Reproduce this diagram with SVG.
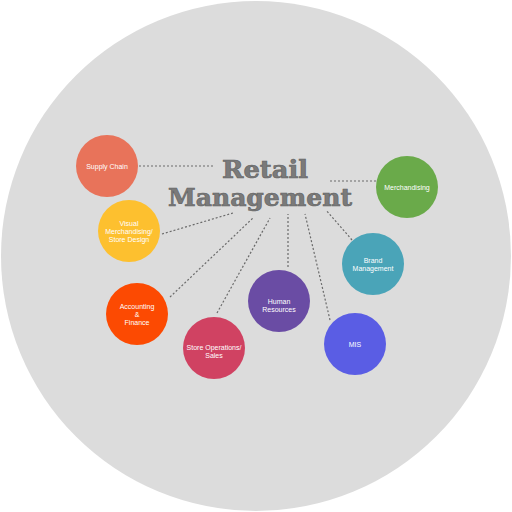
<svg xmlns="http://www.w3.org/2000/svg" width="512" height="512" viewBox="0 0 512 512">
<style>
.node circle{stroke:none}
.lbl{font-family:"Liberation Sans",Arial,sans-serif;font-size:7px;fill:#ffffff;text-anchor:middle}
.title{font-family:"DejaVu Serif","Liberation Serif",serif;font-weight:bold;font-size:25px;fill:#7a7a7a;stroke:#5e5e5e;stroke-width:0.6}
.conn line{stroke:#6a6a6a;stroke-width:1.2;stroke-dasharray:2 2}
</style>
<rect width="512" height="512" fill="#ffffff"/>
<circle cx="256" cy="256" r="255" fill="#dcdcdc"/>
<g id="title">
<text class="title" x="222" y="178" textLength="86" lengthAdjust="spacingAndGlyphs">Retail</text>
<text class="title" x="168" y="206" textLength="184" lengthAdjust="spacingAndGlyphs">Management</text>
</g>
<g class="conn" id="connectors">
<line x1="139" y1="166" x2="215" y2="166"/>
<line x1="330" y1="181" x2="376" y2="181"/>
<line x1="162" y1="234" x2="233" y2="213"/>
<line x1="170" y1="297" x2="253" y2="218"/>
<line x1="217" y1="313" x2="270" y2="218"/>
<line x1="288" y1="267" x2="288" y2="214"/>
<line x1="330" y1="320" x2="305" y2="214"/>
<line x1="352" y1="240" x2="326" y2="210"/>
</g>
<g class="node" id="supply-chain"><circle cx="107" cy="166" r="31" fill="#e8735a"/><text class="lbl" x="107" y="169">Supply Chain</text></g>
<g class="node" id="visual-merch"><circle cx="129" cy="231" r="31" fill="#fdc02f"/><text class="lbl" x="129" y="226">Visual</text><text class="lbl" x="129" y="234">Merchandising/</text><text class="lbl" x="129" y="242">Store Design</text></g>
<g class="node" id="accounting"><circle cx="137" cy="314" r="31" fill="#fc4a02"/><text class="lbl" x="137" y="309">Accounting</text><text class="lbl" x="137" y="317">&amp;</text><text class="lbl" x="137" y="325">Finance</text></g>
<g class="node" id="store-ops"><circle cx="214" cy="348" r="31" fill="#d04262"/><text class="lbl" x="214" y="350">Store Operations/</text><text class="lbl" x="214" y="358">Sales</text></g>
<g class="node" id="human-resources"><circle cx="279" cy="301" r="31" fill="#6a4ca4"/><text class="lbl" x="279" y="304">Human</text><text class="lbl" x="279" y="312">Resources</text></g>
<g class="node" id="mis"><circle cx="355" cy="344" r="31" fill="#5a5de4"/><text class="lbl" x="355" y="347">MIS</text></g>
<g class="node" id="brand"><circle cx="373" cy="264" r="31" fill="#4aa4b8"/><text class="lbl" x="373" y="263">Brand</text><text class="lbl" x="373" y="271">Management</text></g>
<g class="node" id="merchandising"><circle cx="407" cy="187" r="31" fill="#6aaa4a"/><text class="lbl" x="407" y="190">Merchandising</text></g>
</svg>
